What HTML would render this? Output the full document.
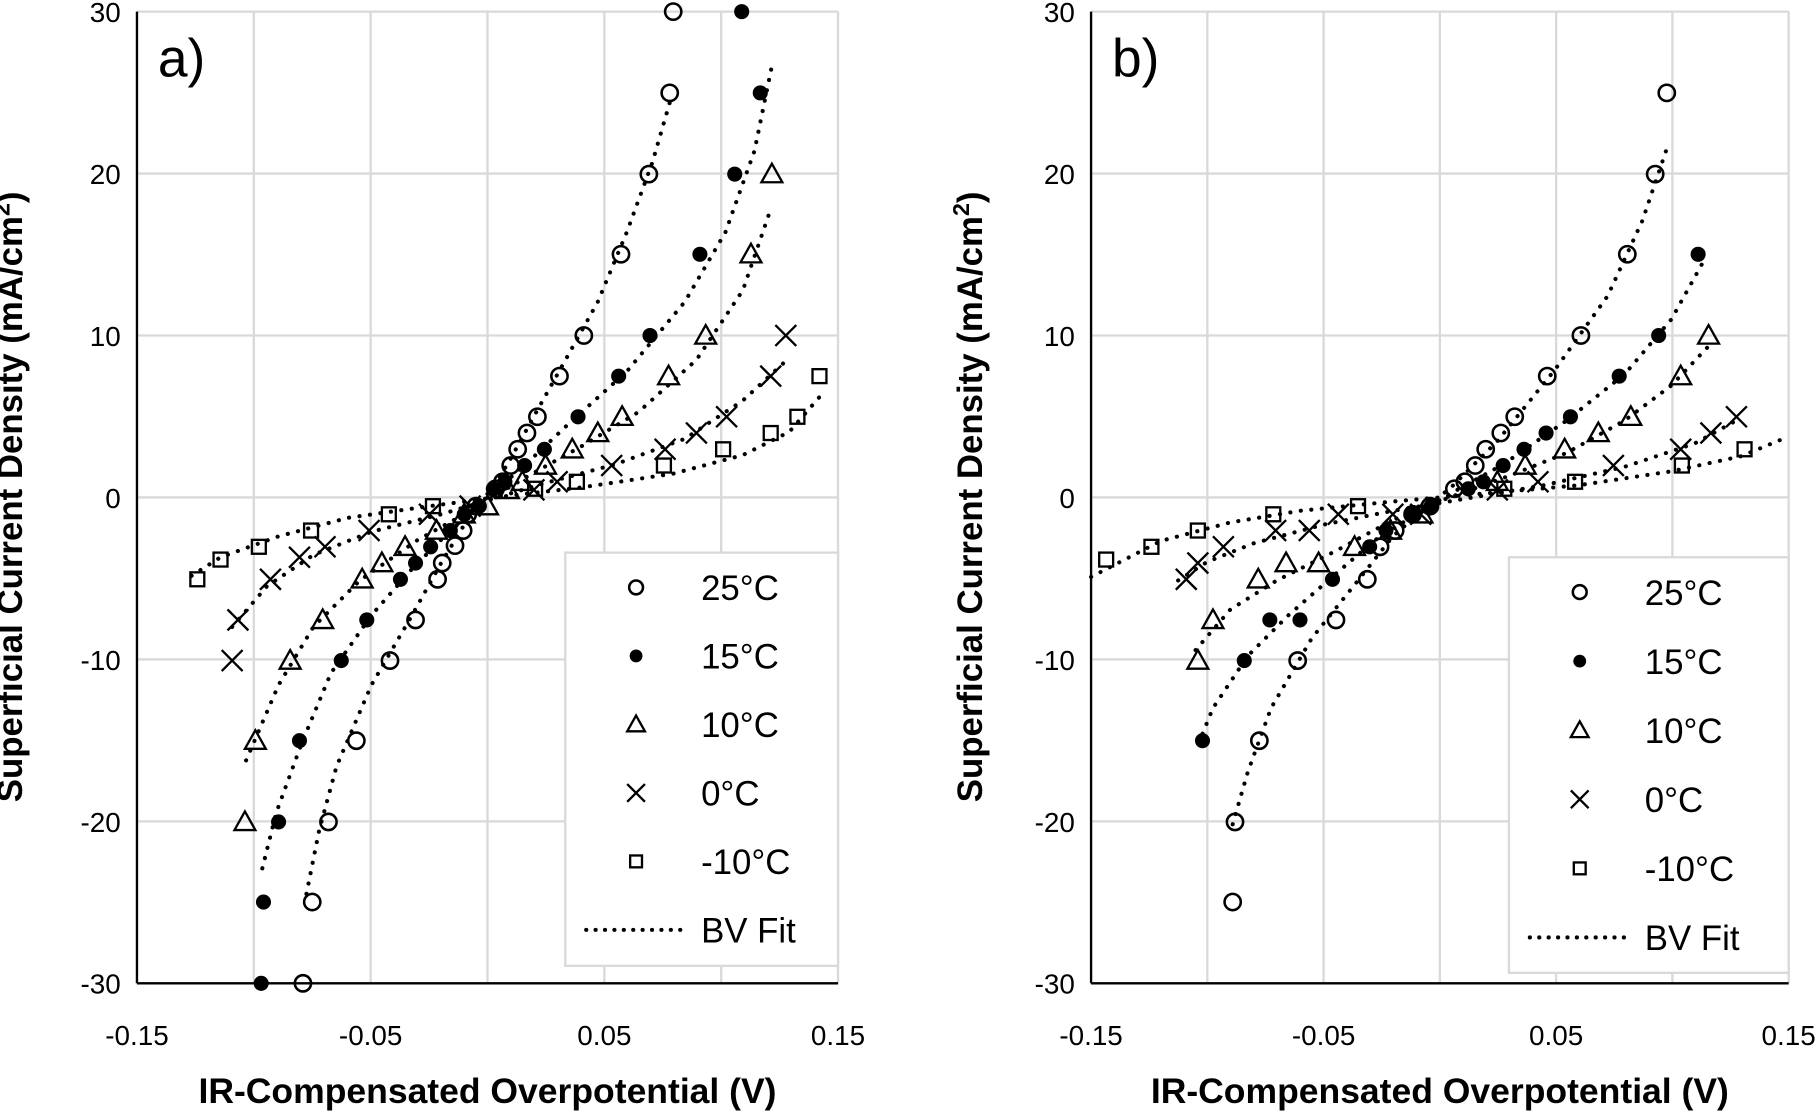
<!DOCTYPE html>
<html><head><meta charset="utf-8"><style>
html,body{margin:0;padding:0;background:#fff;}
svg{display:block;}
text{font-family:"Liberation Sans",sans-serif;fill:#000;}
</style></head><body>
<svg id="s" width="1820" height="1111" viewBox="0 0 1568 957" preserveAspectRatio="none" xmlns="http://www.w3.org/2000/svg"></svg>
<script>
const S=document.getElementById('s');
let h='';
function panel(x0,x1,label,xl){
  const y0=10,y1=847;
  for(let i=0;i<=6;i++){const x=x0+(x1-x0)*i/6;h+=`<line x1="${x}" y1="${y0}" x2="${x}" y2="${y1}" stroke="#d9d9d9" stroke-width="2"/>`;}
  for(let i=0;i<=6;i++){const y=y0+(y1-y0)*i/6;h+=`<line x1="${x0}" y1="${y}" x2="${x1}" y2="${y}" stroke="#d9d9d9" stroke-width="2"/>`;}
  h+=`<line x1="${x0}" y1="${y0}" x2="${x0}" y2="${y1}" stroke="#000" stroke-width="2"/>`;
  h+=`<line x1="${x0}" y1="${y1}" x2="${x1}" y2="${y1}" stroke="#000" stroke-width="2"/>`;
  const yl=['30','20','10','0','-10','-20','-30'];
  yl.forEach((t,i)=>{h+=`<text x="${x0-14}" y="${y0+(y1-y0)*i/6+9}" font-size="24" text-anchor="end">${t}</text>`;});
  ['-0.15','-0.05','0.05','0.15'].forEach((t,i)=>{h+=`<text x="${x0+(x1-x0)*i/3}" y="${y1+53}" font-size="24" text-anchor="middle">${t}</text>`;});
  h+=`<text x="${(x0+x1)/2}" y="950" font-size="30" font-weight="bold" text-anchor="middle" textLength="498" lengthAdjust="spacingAndGlyphs">IR-Compensated Overpotential (V)</text>`;
  h+=`<text transform="translate(${xl+4},428) rotate(-90)" font-size="30" font-weight="bold" text-anchor="middle">Superficial Current Density (mA/cm<tspan font-size="20" dy="-11">2</tspan><tspan dy="11">)</tspan></text>`;
  h+=`<text x="${x0+18}" y="66" font-size="46">${label}</text>`;
}
function mk(t,x,y,s){
  s=s||1;
  if(t==0)h+=`<circle cx="${x}" cy="${y}" r="${7*s}" fill="none" stroke="#000" stroke-width="2.2"/>`;
  if(t==1)h+=`<circle cx="${x}" cy="${y}" r="${6.5*s}" fill="#000"/>`;
  if(t==2)h+=`<polygon points="${x},${y-9*s} ${x+9*s},${y+7*s} ${x-9*s},${y+7*s}" fill="none" stroke="#000" stroke-width="2"/>`;
  if(t==3)h+=`<path d="M${x-9*s} ${y-9*s}L${x+9*s} ${y+9*s}M${x+9*s} ${y-9*s}L${x-9*s} ${y+9*s}" stroke="#000" stroke-width="2"/>`;
  if(t==4)h+=`<rect x="${x-6*s}" y="${y-6*s}" width="${12*s}" height="${12*s}" fill="none" stroke="#000" stroke-width="2"/>`;
}
function fit(p){p=p.slice().sort((a,b)=>a[0]-b[0]);let d='M'+p.map(q=>q.join(' ')).join(' L');h+=`<path d="${d}" fill="none" stroke="#000" stroke-width="3.5" stroke-dasharray="0.1 9" stroke-linecap="round" stroke-linejoin="round"/>`;}
function series(t,pts,fp){fit(fp||pts);pts.forEach(p=>mk(t,p[0],p[1]));}
function legend(x,y,w,hh,dy){
  h+=`<rect x="${x}" y="${y}" width="${w}" height="${hh}" fill="#fff" stroke="#d9d9d9" stroke-width="2"/>`;
  const L=['25°C','15°C','10°C','0°C','-10°C'];
  L.forEach((t,i)=>{const yy=y+30+i*dy;mk(i,x+61,yy,0.85);h+=`<text x="${x+117}" y="${yy+11}" font-size="30">${t}</text>`;});
  const yy=y+30+5*dy;
  h+=`<line x1="${x+18}" y1="${yy}" x2="${x+100}" y2="${yy}" stroke="#000" stroke-width="3.5" stroke-dasharray="0.1 8" stroke-linecap="round"/>`;
  h+=`<text x="${x+117}" y="${yy+11}" font-size="30">BV Fit</text>`;
}
panel(118,722,'a)',15);
panel(940,1541,'b)',842);
series(0,[[580,10],[577,80],[559,150],[535,219],[503,289],[482,324],[463,359],[454,373],[446,387],[440,401],[433,415],[427,421],[410,436],[403,443],[399,457],[392,470],[381,485],[377,499],[358,534],[336,569],[307,638],[283,708],[269,777],[261,847]],
 [[578,85],[562,140],[540,200],[515,260],[490,305],[462,355],[440,395],[425,420],[410,436],[400,452],[380,485],[355,530],[320,590],[290,660],[275,715],[264,770]]);
series(1,[[639,10],[655,80],[633,150],[603,219],[560,289],[533,324],[498,359],[469,387],[452,401],[435,415],[425,421],[413,436],[400,443],[388,457],[371,471],[358,485],[345,499],[316,534],[294,569],[258,638],[240,708],[227,777],[225,847]],
 [[666,52],[650,130],[625,200],[590,260],[540,320],[490,365],[455,398],[430,420],[410,438],[385,460],[355,490],[320,530],[285,580],[260,640],[238,700],[226,748]]);
series(2,[[665,150],[647,219],[608,289],[576,324],[536,359],[515,373],[493,387],[470,401],[450,415],[438,422],[420,436],[400,443],[376,457],[349,471],[329,485],[312,499],[278,534],[250,569],[220,638],[211,708]],
 [[663,183],[640,250],[600,310],[550,355],[500,385],[455,410],[430,425],[400,443],[360,465],[310,500],[270,540],[240,590],[212,655]]);
series(3,[[677,289],[664,324],[626,359],[600,373],[573,387],[527,401],[480,415],[460,422],[405,436],[370,443],[318,457],[280,471],[258,480],[233,499],[205,534],[200,569]],
 [[678,310],[640,345],[590,378],[530,400],[470,416],[430,428],[380,443],[320,458],[270,478],[230,505],[200,540]]);
series(4,[[706,324],[687,359],[664,373],[623,387],[572,401],[497,415],[461,421],[373,436],[335,443],[268,457],[223,471],[190,482],[170,499]],
 [[706,342],[680,372],[640,392],[580,408],[500,420],[430,428],[370,436],[300,446],[240,462],[190,480],[165,496]]);
legend(487,476,235,356,59);
series(0,[[1436,80],[1426,150],[1402,219],[1362,289],[1333,324],[1305,359],[1293,373],[1280,387],[1271,401],[1262,415],[1253,421],[1232,436],[1217,443],[1202,457],[1189,471],[1178,499],[1151,534],[1118,569],[1085,638],[1064,708],[1062,777]],
 [[1436,128],[1415,190],[1385,255],[1340,318],[1290,380],[1250,420],[1225,440],[1200,462],[1170,500],[1130,550],[1095,610],[1075,665],[1062,710]]);
series(1,[[1463,219],[1429,289],[1395,324],[1353,359],[1332,373],[1313,387],[1295,401],[1278,415],[1265,421],[1233,436],[1217,443],[1194,457],[1180,471],[1148,499],[1120,534],[1094,534],[1072,569],[1036,638]],
 [[1466,228],[1440,275],[1400,322],[1350,362],[1295,400],[1250,425],[1220,443],[1185,465],[1150,495],[1110,530],[1075,565],[1045,610],[1036,632]]);
series(2,[[1472,289],[1448,324],[1405,359],[1377,373],[1348,387],[1314,401],[1290,415],[1225,443],[1198,457],[1167,471],[1136,485],[1108,485],[1084,499],[1045,534],[1032,569]],
 [[1475,295],[1440,332],[1400,362],[1350,390],[1300,410],[1250,428],[1200,448],[1150,475],[1100,500],[1060,525],[1030,560]]);
series(3,[[1496,359],[1474,373],[1448,387],[1390,401],[1325,415],[1290,422],[1224,443],[1200,443],[1153,443],[1128,457],[1099,457],[1054,471],[1032,485],[1022,499]],
 [[1500,360],[1460,382],[1400,402],[1330,418],[1260,430],[1200,440],[1140,452],[1080,468],[1040,484],[1015,500]]);
series(4,[[1503,387],[1449,401],[1357,415],[1296,421],[1170,436],[1097,443],[1032,457],[992,471],[953,482]],
 [[1541,376],[1500,393],[1440,406],[1360,418],[1280,425],[1200,432],[1120,440],[1060,450],[1000,466],[940,497]]);
legend(1300,480,241,358,59.5);
S.innerHTML=h;
</script>
</body></html>
